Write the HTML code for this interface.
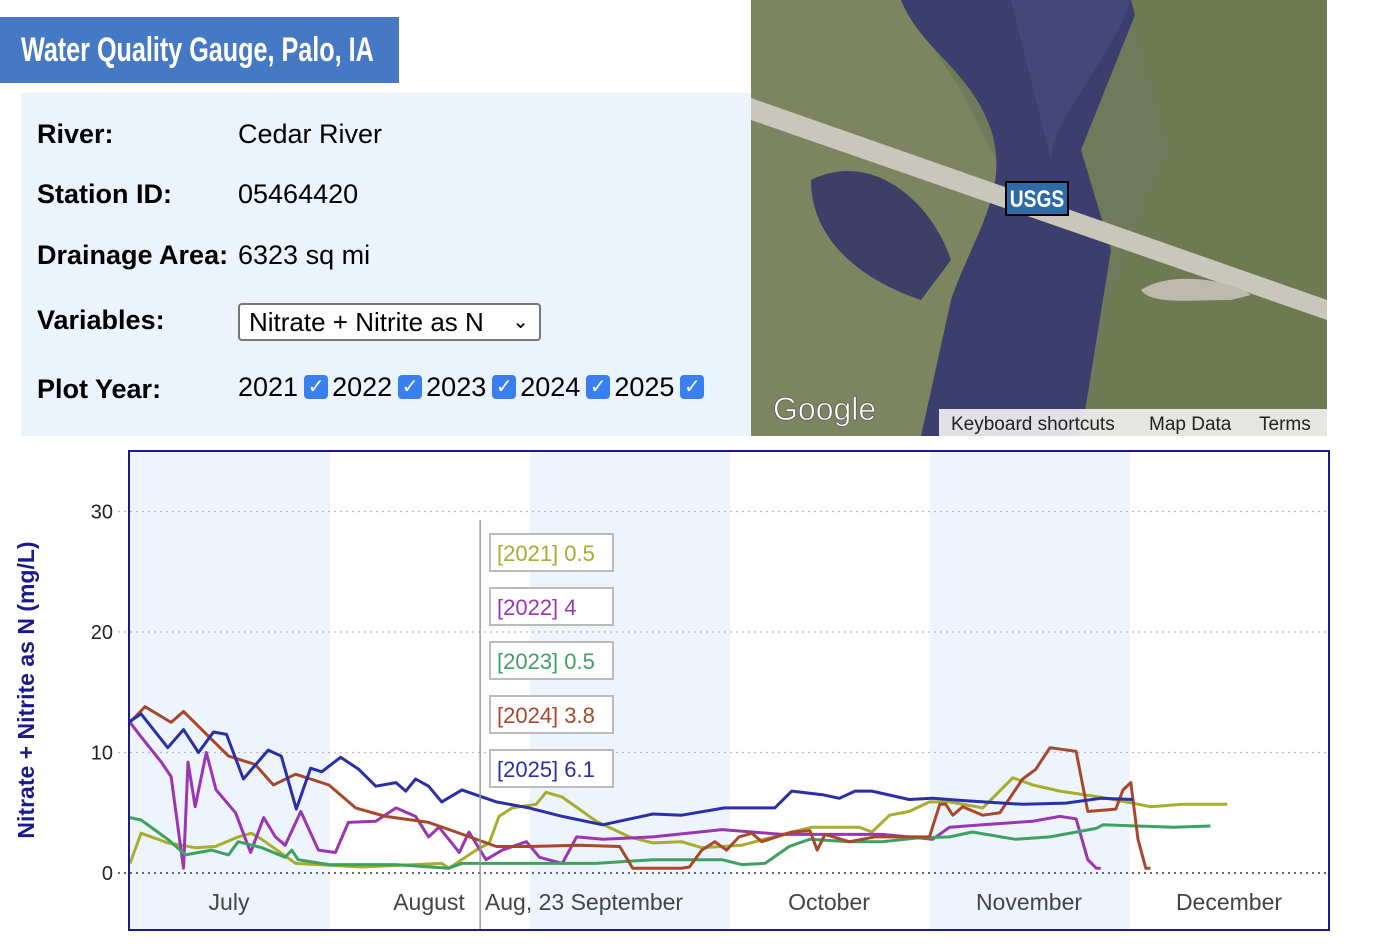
<!DOCTYPE html>
<html><head><meta charset="utf-8">
<style>
body{margin:0;width:1376px;height:952px;background:#fff;position:relative;overflow:hidden;font-family:"Liberation Sans",sans-serif;}
.abs{position:absolute;}
#title{left:0;top:17px;width:399px;height:66px;background:#4679c4;}
#title span{position:absolute;left:21px;top:0;color:#fff;font-weight:bold;font-size:34px;line-height:66px;white-space:nowrap;transform:scaleX(0.74);transform-origin:0 50%;}
#panel{left:21px;top:93px;width:730px;height:343px;background:#ebf3fc;}
.lbl{font-size:27px;font-weight:bold;color:#000;left:37px;}
.val{font-size:27px;color:#000;left:238px;}
#sel{left:238px;top:303px;height:34px;border:2px solid #777;border-radius:4px;background:#fff;font-size:26px;line-height:34px;padding-left:9px;width:290px;}
.cb{display:inline-block;width:24px;height:24px;background:#3a7ff0;border-radius:4px;color:#fff;font-size:20px;line-height:24px;text-align:center;vertical-align:middle;margin:0 4px 0 6px;position:relative;top:-2px;}
#map{left:751px;top:0;width:576px;height:436px;overflow:hidden;}
</style></head><body>
<div id="title" class="abs"><span>Water Quality Gauge, Palo, IA</span></div>
<div id="panel" class="abs"></div>
<div class="abs lbl" style="top:119px">River:</div>
<div class="abs val" style="top:119px">Cedar River</div>
<div class="abs lbl" style="top:179px">Station ID:</div>
<div class="abs val" style="top:179px">05464420</div>
<div class="abs lbl" style="top:240px">Drainage Area:</div>
<div class="abs val" style="top:240px">6323 sq mi</div>
<div class="abs lbl" style="top:305px">Variables:</div>
<div id="sel" class="abs">Nitrate + Nitrite as N <span style="position:absolute;right:10px;font-size:20px">&#8964;</span></div>
<div class="abs lbl" style="top:374px">Plot Year:</div>
<div class="abs val" style="top:372px;white-space:nowrap">2021<span class="cb">✓</span>2022<span class="cb">✓</span>2023<span class="cb">✓</span>2024<span class="cb">✓</span>2025<span class="cb">✓</span></div>

<div id="map" class="abs">
<svg width="576" height="436">
<rect width="576" height="436" fill="#6f7a5a"/>
<path d="M0 0 L150 0 L210 90 L260 190 L230 436 L0 436Z" fill="#7d8560"/>
<path d="M60 180 C120 150 180 200 200 260 L170 300 C110 280 60 240 60 180Z" fill="#3d3f66"/>
<path d="M150 0 L390 0 L330 150 L360 250 L330 436 L170 436 L200 300 C220 240 260 190 240 130 C220 70 170 50 150 0Z" fill="#3c3f6e"/>
<path d="M260 0 L380 0 C360 60 300 120 300 160 Z" fill="#43477a"/>
<path d="M380 0 L576 0 L576 436 L330 436 L360 300 L390 220 L420 150Z" fill="#6e7a52"/>
<path d="M0 98 L576 300 L576 320 L0 120Z" fill="#c9c6bb"/>
<path d="M390 290 C420 270 480 280 500 295 L480 300 C440 300 400 305 390 290Z" fill="#bdb9ad"/>
<rect x="255" y="182" width="62" height="33" fill="#2c6aa8" stroke="#000" stroke-width="2"/>
<text x="286" y="207" font-family="Liberation Sans,sans-serif" font-weight="bold" font-size="24" fill="#fff" text-anchor="middle" transform="translate(286 0) scale(0.8 1) translate(-286 0)">USGS</text>
<text x="22" y="420" font-family="Liberation Sans,sans-serif" font-size="32" fill="#fff" stroke="#555" stroke-width="0.7">Google</text>
<rect x="188" y="409" width="388" height="27" fill="#f2f2f2" opacity="0.9"/>
<text x="200" y="430" font-family="Liberation Sans,sans-serif" font-size="19" fill="#222">Keyboard shortcuts</text>
<text x="398" y="430" font-family="Liberation Sans,sans-serif" font-size="19" fill="#222">Map Data</text>
<text x="508" y="430" font-family="Liberation Sans,sans-serif" font-size="19" fill="#222">Terms</text>
</svg>
</div>

<svg class="abs" style="left:0;top:0" width="1376" height="952" id="chart">
<g id="bands"></g><g id="grid"></g><g id="lines"></g><g id="labels"></g>
<text x="34" y="690" transform="rotate(-90 34 690)" text-anchor="middle" font-family="Liberation Sans,sans-serif" font-weight="bold" font-size="23" fill="#1a1a8c">Nitrate + Nitrite as N (mg/L)</text>
<rect x="129" y="451" width="1200" height="479" fill="none" stroke="#1a1a8c" stroke-width="2"/>
</svg>
<script>
const months=["July","August","September","October","November","December"];
const yTicks=[0,10,20,30];
const d2021=[0,1.7,5.8,10,13.1,16.6,18.6,20.2,25.4,35.5,47.8,48.9,53.1,55.1,56.6,58.6,62.3,63.8,66.3,71.5,76.6,80.2,84.6,87.7,93.8,100,104.6,111.8,113.8,116.5,119.5,122.6,125.7,130.8,135.4,138.5,142.6,148.8,153.8,156.5,161.5,168.3];
const v2021=[0.8,3.3,2.5,2.1,2.2,3,3.3,2.8,0.8,0.5,0.8,0.4,1.9,2.5,4.7,5.4,5.7,6.7,6.3,4.3,3,2.5,2.6,2.1,2.3,3.2,3.8,3.8,3.4,4.8,5.1,5.9,5.9,5.4,7.9,7.3,6.8,6.3,5.8,5.5,5.7,5.7];
const d2022=[0,1.7,4.8,6.3,8.2,8.9,10,11.7,13.2,16.2,18.5,20.5,22.3,23.8,26.2,28.9,31.5,33.5,37.7,40.8,43.8,45.8,47.4,48.9,50.5,52,54.6,57.1,60.8,62.8,66.3,68.5,72.5,80.2,90.8,100,115.4,123.1,125.7,130.8,138.5,142.6,145.1,146.9,148.2,148.9];
const v2022=[12.5,11.3,9.2,8,0.4,9.2,5.5,10,6.9,5,1.7,4.6,3,2.3,5.1,1.9,1.7,4.2,4.3,5.4,4.7,3,3.8,2.8,1.7,3.4,1.1,1.9,2.6,1.3,0.8,3,2.8,3,3.6,3.2,3.2,2.8,3.8,4,4.3,4.7,4.5,1.1,0.4,0.4];
const d2023=[0,1.7,5.8,8.5,12.5,15.1,16.6,20.2,23.8,24.8,25.8,30.5,40.8,48.9,50.9,71.5,80.2,90.8,93.8,97.4,101.1,104.2,110.3,115.4,120.5,125.7,129.2,135.8,141.1,148.2,149.2,160,165.7];
const v2023=[4.6,4.4,2.8,1.5,1.9,1.5,2.6,2.1,1.3,1.9,1.1,0.7,0.7,0.4,0.8,0.8,1.1,1.1,0.7,0.8,2.2,2.8,2.6,2.6,2.9,3,3.4,2.8,3,3.7,4,3.8,3.9];
const d2024=[0,2.3,6.3,8.2,15.1,19.2,22,25.4,30.5,34.6,39.2,45.8,50,56.2,61.2,68.9,75.1,77.1,84.6,85.8,87.7,89.7,91.5,93.4,95.4,96.9,101.5,104.3,105.4,106.6,110.3,114.3,122.6,124.2,125.1,126.2,127.7,130.8,133.4,136.9,138.9,141.1,145.1,146.9,151.2,152.3,153.5,154.6,155.8,156.5];
const v2024=[12.5,13.8,12.5,13.4,9.7,9,7.3,8.2,7.3,5.4,4.7,4.2,3.4,2.2,2.2,2.3,2.2,0.4,0.4,0.5,1.9,2.6,1.9,3,3.3,2.6,3.4,3.5,1.9,3.2,2.6,3,3,5.7,5.7,4.8,5.5,4.8,5,7.8,8.6,10.4,10.1,5.1,5.3,6.9,7.5,2.8,0.4,0.4];
const d2025=[0,1.7,5.8,8.2,10.5,12.8,14.8,17.4,21.2,23.2,25.5,27.7,29.4,32.3,35.1,37.7,40.8,42.3,43.8,45.8,47.8,50.9,56.2,61.2,66.3,72.5,80.2,84.6,91.2,98.9,101.5,106.2,108.8,111.2,113.8,119.5,123.1,128.2,136.9,143.5,148.9,153.8];
const v2025=[12.6,13.2,10.4,11.9,10,11.7,11.5,7.8,10.2,9.7,5.3,8.7,8.4,9.6,8.6,7.2,7.5,6.8,7.8,7.2,5.9,6.9,5.9,5.4,4.7,4,4.9,4.8,5.4,5.4,6.8,6.5,6.2,6.8,6.8,6.1,6.2,6,5.7,5.8,6.2,6.1];
const tipYears=["2021","2022","2023","2024","2025"];
const tipValues=["0.5","4","0.5","3.8","6.1"];
const cursorDay=53.7;
const colors=["#a7ad2c","#9a35b3","#3ea160","#a8482a","#2a2fa8"];

const NS="http://www.w3.org/2000/svg";
const X0=130,PXD=6.52,Y0=873,PXV=12.05;
const sx=d=>X0+d*PXD, sy=v=>Y0-v*PXV;
function mk(tag,attrs,parent){const e=document.createElementNS(NS,tag);for(const k in attrs)e.setAttribute(k,attrs[k]);document.getElementById(parent).appendChild(e);return e;}
months.forEach((m,i)=>{
  if(i%2===0){const b=mk("rect",{x:130+i*200,y:452,width:200,height:477,fill:"#eef4fd"},"bands");
  
  }
  const t=mk("text",{x:229+i*200,y:910,"text-anchor":"middle","font-family":"Liberation Sans,sans-serif","font-size":23,fill:"#444"},"labels");
  t.textContent=(m==="September")?"Aug, 23 September":m;
  if(m==="September")t.setAttribute("x",584);
  
  
});
yTicks.forEach(v=>{
  const g=mk("line",{x1:118,x2:1328,y1:sy(v),y2:sy(v),stroke:v===0?"#666":"#bbb","stroke-dasharray":"2,4","stroke-width":v===0?2:1.2},"grid");
  
  
  const t=mk("text",{x:113,y:sy(v)+7,"text-anchor":"end","font-family":"Liberation Sans,sans-serif","font-size":20,fill:"#222"},"labels");
  t.textContent=v;
  
  
});
const series=[[d2021,v2021],[d2022,v2022],[d2023,v2023],[d2024,v2024],[d2025,v2025]];
series.forEach((s,i)=>{
  const pts=s[0].map((d,j)=>sx(d).toFixed(1)+","+sy(s[1][j]).toFixed(1)).join(" ");
  const p=mk("polyline",{points:pts,fill:"none",stroke:colors[i],"stroke-width":3,"stroke-linejoin":"round"},"lines");
  
  
});
const cl=mk("line",{x1:sx(cursorDay),x2:sx(cursorDay),y1:520,y2:930,stroke:"#999","stroke-width":1.5},"lines");


tipYears.forEach((y,i)=>{
  const r=mk("rect",{x:490,y:534+i*54,width:123,height:37,fill:"#fff",stroke:"#bbb","stroke-width":2},"lines");
  
  
  const t=mk("text",{x:497,y:561+i*54,"font-family":"Liberation Sans,sans-serif","font-size":22,fill:colors[i]},"lines");
  t.textContent="["+y+"] "+tipValues[i];
  
  
});
</script>
</body></html>
